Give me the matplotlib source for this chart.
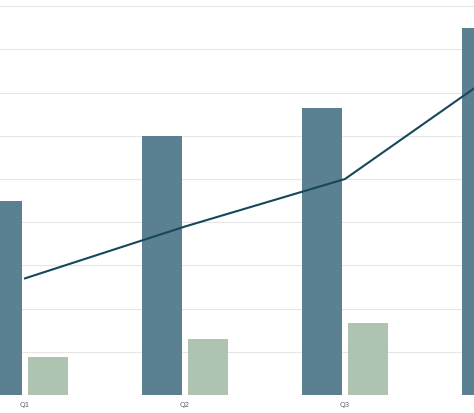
import matplotlib
matplotlib.use("Agg")
from matplotlib import pyplot as plt
import numpy as np

# Quarterly values (gridline step = 10)
quarters = ["Q1", "Q2", "Q3", "Q4"]
series_a = [45, 60, 66.5, 85]
series_b = [8.8, 13, 16.7, 20]
trend = [27, 39, 50, 76]

x = np.arange(len(quarters))
bar_w = 0.245
offset = 0.144

fig = plt.figure(figsize=(4.74, 4.14), dpi=100)
ax = fig.add_axes([0, 18 / 414, 1, 396 / 414])

ax.bar(x - offset, series_a, width=bar_w, color="#5b8092", zorder=2)
ax.bar(x + offset, series_b, width=bar_w, color="#aec4b0", zorder=2)
ax.plot(x, trend, color="#17475a", linewidth=1.5, zorder=3)

ax.set_yticks(np.arange(0, 91, 10))
ax.set_xticks(x)
ax.set_xticklabels(quarters)
# set limits after ticks, set_xticks widens the view otherwise
ax.set_xlim(-25 / 160, 449 / 160)
ax.set_ylim(0, 396 / 4.32)
ax.grid(axis="y", color="#e6e6e6", linewidth=0.8, zorder=0)
ax.set_axisbelow(True)
for s in ax.spines.values():
    s.set_visible(False)
ax.tick_params(axis="both", length=0)
ax.tick_params(axis="x", labelsize=5.2, labelcolor="#666666", pad=4.5)
ax.tick_params(axis="y", labelleft=False)

plt.savefig("out.png", dpi=100)
